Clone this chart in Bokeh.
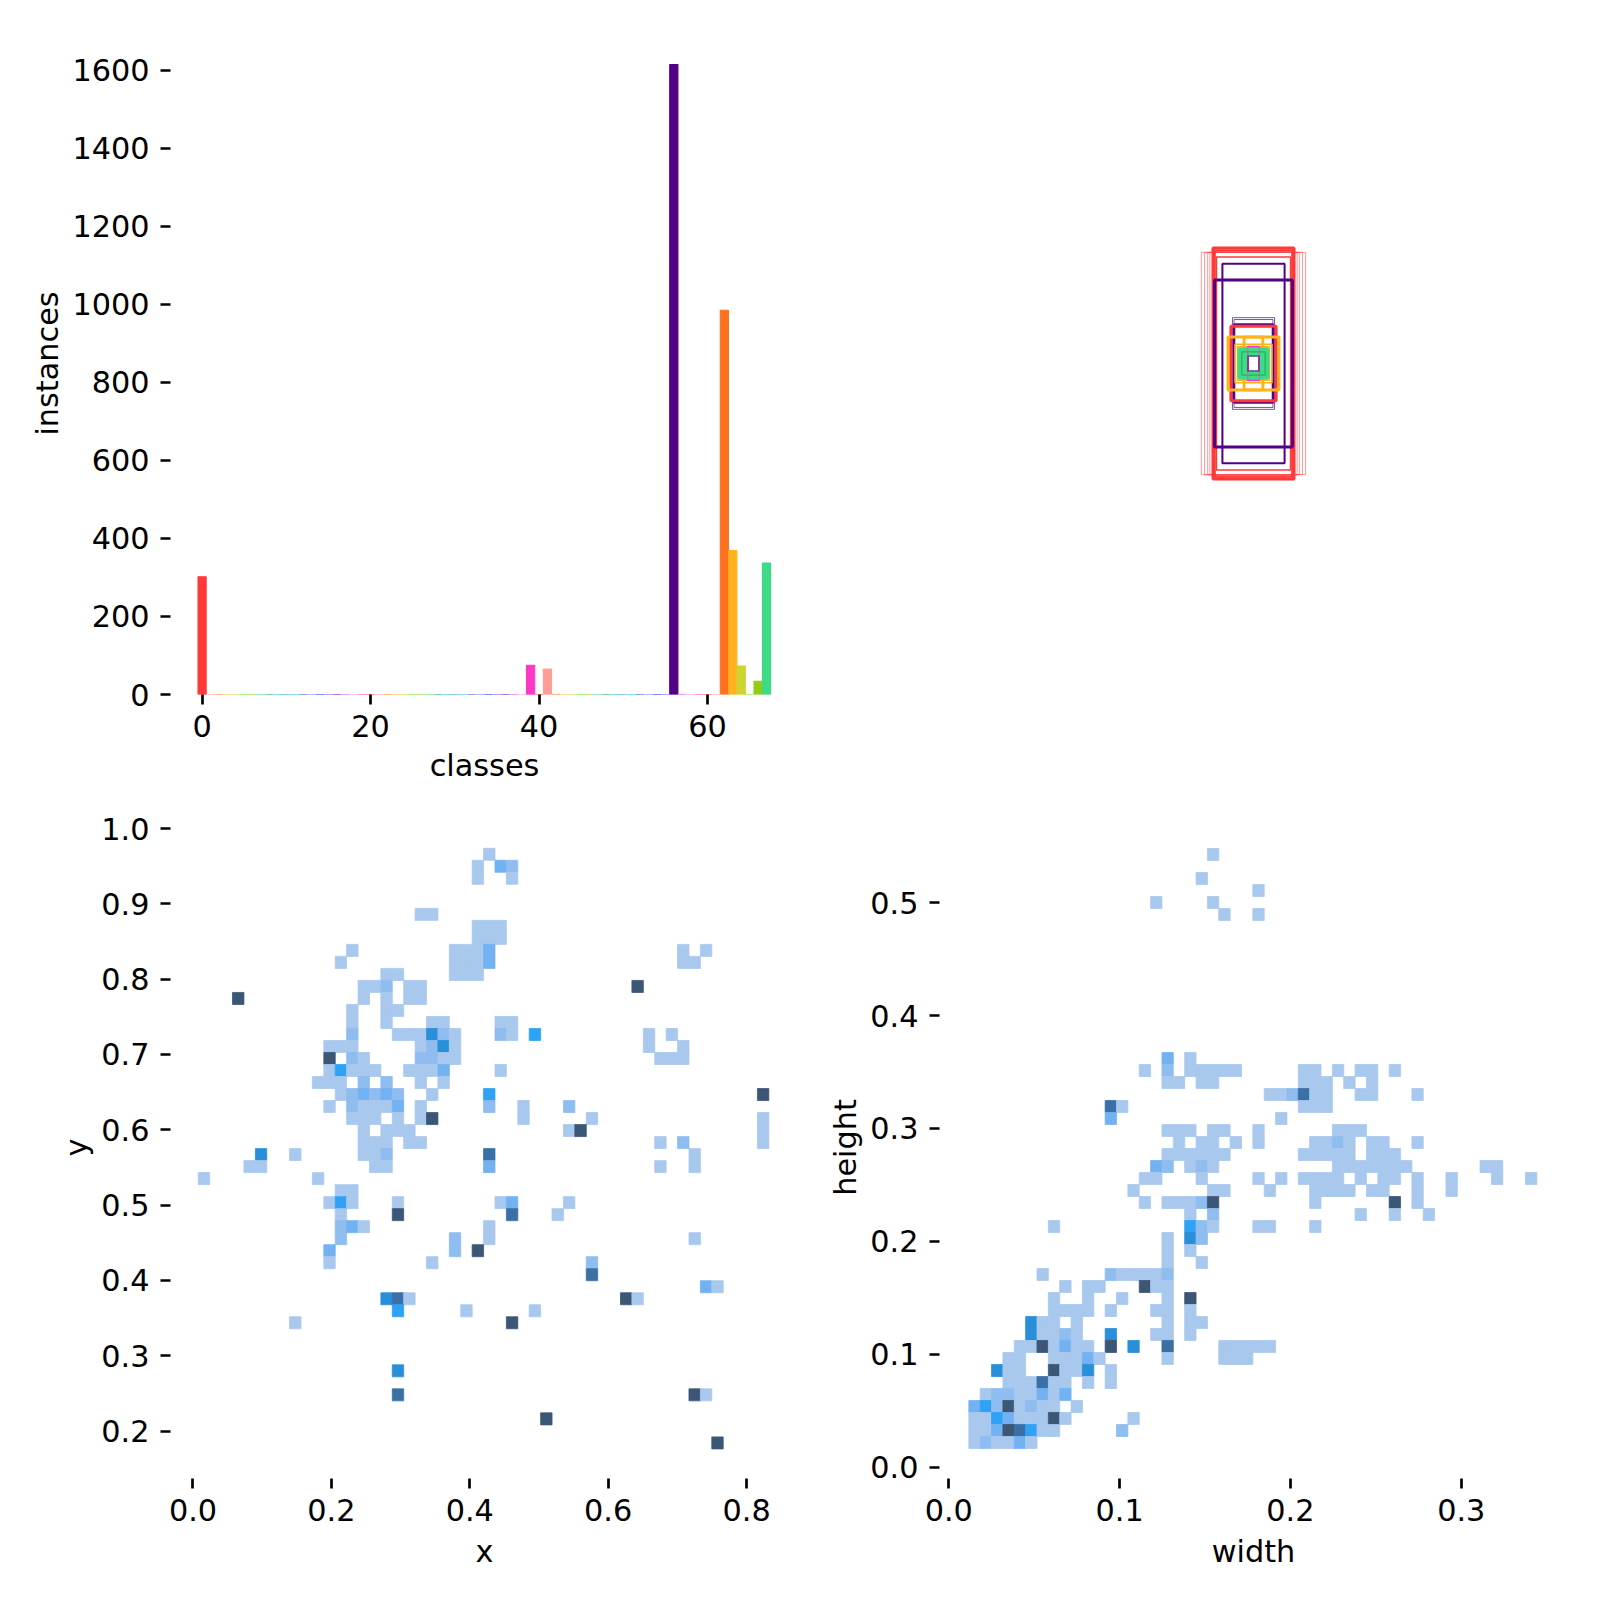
from bokeh.plotting import figure
from bokeh.layouts import column, row
from bokeh.models import FixedTicker, NumeralTickFormatter
from bokeh.embed import file_html
from bokeh.resources import INLINE

# ---- palette by class ----
PALETTE = ["#FF3838", "#FF9D97", "#FF701F", "#FFB21D", "#CFD231", "#48F90A", "#92CC17", "#3DDB86",
           "#1A9334", "#00D4BB", "#2C99A8", "#00C2FF", "#344593", "#6473FF", "#0018EC", "#8438FF",
           "#520085", "#CB38FF", "#FF95C8", "#FF37C7"]

# ---- class histogram ----
class_ids = list(range(68))
class_counts = [302, 0, 0, 0, 0, 0, 0, 0, 0, 0,
                0, 0, 0, 0, 0, 0, 0, 0, 0, 0,
                0, 0, 0, 0, 0, 0, 0, 0, 0, 0,
                0, 0, 0, 0, 0, 0, 0, 0, 0, 75,
                0, 65, 0, 0, 0, 0, 0, 0, 0, 0,
                0, 0, 0, 0, 0, 0, 1615, 0, 0, 0,
                0, 0, 985, 369, 73, 0, 34, 337]

# ---- label boxes, centred (fraction of canvas) ----
box_class = [0, 0, 0, 0, 0, 0, 0, 56, 56, 56, 56, 56, 0, 63, 63, 63, 63, 62, 63,
             39, 67, 67, 67, 67, 8, 39, 56, 56]
box_w = [.166, .156, .146, .139, .129, .124, .118, .124, .099, .067, .062, .062, .072, .059, .051, .030, .081, .030, .030,
         .018, .045, .037, .029, .023, .037, .018, .016, .019]
box_h = [.354, .354, .354, .354, .368, .360, .339, .266, .318, .146, .140, .124, .119, .061, .053, .084, .084, .084, .084,
         .053, .045, .037, .031, .027, .037, .053, .022, .025]
box_n = [1, 1, 1, 1, 6, 5, 3, 6, 4, 2, 2, 5, 6, 3, 3, 5, 6, 2, 5,
         4, 8, 6, 6, 6, 2, 2, 1, 1]

# ---- x / y 2D histogram: row (from top) -> {column: shade level} ----
xy_rows = {
    0: {25: 1}, 1: {24: 1, 26: 3, 27: 2}, 2: {24: 1, 27: 1}, 5: {19: 1, 20: 1},
    6: {24: 1, 25: 1, 26: 1}, 7: {24: 1, 25: 1, 26: 1},
    8: {13: 1, 22: 1, 23: 1, 24: 1, 25: 3, 42: 1, 44: 1},
    9: {12: 1, 22: 1, 23: 1, 24: 1, 25: 3, 42: 1, 43: 1},
    10: {16: 1, 17: 1, 22: 1, 23: 1, 24: 1},
    11: {14: 1, 15: 1, 16: 2, 18: 1, 19: 1, 38: 7},
    12: {3: 7, 14: 1, 16: 1, 18: 1, 19: 1},
    13: {13: 1, 16: 1, 17: 1},
    14: {13: 1, 16: 1, 20: 1, 21: 1, 26: 1, 27: 1},
    15: {13: 2, 17: 1, 18: 1, 19: 1, 20: 5, 21: 2, 22: 1, 26: 2, 27: 1, 29: 4, 39: 1, 41: 1},
    16: {11: 1, 12: 1, 13: 1, 19: 1, 20: 2, 21: 5, 22: 1, 39: 1, 42: 1},
    17: {11: 7, 13: 2, 14: 1, 19: 2, 20: 2, 21: 1, 22: 1, 40: 1, 41: 1, 42: 1},
    18: {11: 1, 12: 4, 13: 1, 14: 1, 15: 1, 18: 1, 19: 1, 20: 1, 21: 3, 26: 1},
    19: {10: 1, 11: 1, 12: 1, 14: 2, 16: 2, 19: 1, 21: 1},
    20: {12: 1, 13: 2, 14: 3, 15: 2, 16: 3, 17: 2, 20: 1, 25: 4, 49: 7},
    21: {11: 1, 13: 2, 14: 1, 15: 1, 16: 1, 17: 3, 19: 1, 25: 2, 28: 1, 32: 2},
    22: {13: 1, 14: 1, 15: 1, 17: 1, 19: 1, 20: 7, 28: 1, 34: 1, 49: 1},
    23: {14: 1, 16: 1, 17: 1, 18: 1, 32: 1, 33: 7, 49: 1},
    24: {14: 1, 15: 1, 16: 1, 18: 1, 19: 1, 40: 1, 42: 2, 49: 1},
    25: {5: 5, 8: 1, 14: 1, 15: 1, 16: 2, 25: 6, 43: 1},
    26: {4: 1, 5: 1, 15: 1, 16: 1, 25: 3, 40: 1, 43: 1},
    27: {0: 1, 10: 1}, 28: {12: 1, 13: 1},
    29: {11: 1, 12: 4, 13: 1, 17: 1, 26: 1, 27: 3, 32: 1},
    30: {12: 1, 17: 7, 27: 6, 31: 1},
    31: {12: 2, 13: 3, 14: 1, 25: 1},
    32: {12: 2, 22: 2, 25: 1, 43: 1},
    33: {11: 3, 22: 2, 24: 7},
    34: {11: 1, 20: 1, 34: 2},
    35: {34: 6},
    36: {44: 3, 45: 1},
    37: {16: 5, 17: 6, 18: 1, 37: 7, 38: 1},
    38: {17: 4, 23: 1, 29: 1},
    39: {8: 1, 27: 7},
    43: {17: 5},
    45: {17: 6, 43: 7, 44: 1},
    47: {30: 7},
    49: {45: 7},
}

# ---- width / height 2D histogram ----
wh_rows = {
    0: {21: 1}, 2: {20: 1}, 3: {25: 1}, 4: {16: 1, 21: 1}, 5: {22: 1, 25: 1},
    17: {17: 3, 19: 1},
    18: {15: 1, 17: 2, 19: 1, 20: 1, 21: 1, 22: 1, 23: 1, 29: 1, 30: 1, 32: 1, 34: 1, 35: 1, 37: 1},
    19: {17: 1, 18: 1, 20: 1, 21: 1, 29: 1, 30: 1, 31: 1, 33: 1, 35: 1},
    20: {26: 1, 27: 1, 28: 2, 29: 6, 30: 1, 31: 1, 34: 1, 35: 1, 39: 1},
    21: {12: 6, 13: 1, 29: 1, 30: 1, 31: 1},
    22: {12: 3, 27: 1},
    23: {17: 1, 18: 1, 19: 1, 21: 1, 22: 1, 25: 1, 32: 1, 33: 1, 34: 1},
    24: {18: 1, 20: 1, 21: 1, 23: 1, 25: 1, 30: 1, 31: 1, 32: 2, 33: 1, 35: 1, 36: 1, 39: 1},
    25: {17: 1, 18: 1, 19: 1, 20: 1, 21: 1, 22: 1, 29: 1, 30: 1, 31: 1, 32: 1, 33: 1, 35: 1, 36: 1, 37: 1},
    26: {16: 3, 17: 2, 19: 1, 20: 2, 21: 1, 32: 1, 33: 1, 34: 1, 35: 1, 36: 1, 37: 1, 38: 1, 45: 1, 46: 1},
    27: {15: 1, 16: 1, 20: 1, 25: 1, 27: 1, 29: 1, 30: 1, 31: 1, 32: 1, 34: 1, 36: 1, 37: 1, 39: 1, 42: 1, 46: 1, 49: 1},
    28: {14: 1, 21: 1, 22: 1, 26: 1, 30: 1, 31: 1, 32: 1, 33: 1, 35: 1, 36: 1, 39: 1, 42: 1},
    29: {15: 1, 17: 1, 18: 1, 19: 1, 20: 2, 21: 7, 30: 1, 37: 7, 39: 1},
    30: {19: 1, 21: 2, 34: 1, 37: 1, 40: 1},
    31: {7: 1, 19: 4, 20: 2, 21: 1, 25: 1, 26: 1, 30: 1},
    32: {17: 1, 19: 5, 20: 2},
    33: {17: 1, 19: 1},
    34: {17: 1, 20: 1},
    35: {6: 1, 12: 2, 13: 1, 14: 1, 15: 1, 16: 1, 17: 2},
    36: {8: 1, 10: 1, 11: 1, 15: 7, 16: 1, 17: 1},
    37: {7: 1, 10: 1, 13: 1, 17: 1, 19: 7},
    38: {7: 1, 8: 1, 9: 1, 10: 1, 12: 1, 16: 1, 17: 1, 19: 1},
    39: {5: 5, 6: 1, 7: 1, 9: 1, 17: 1, 19: 1, 20: 1},
    40: {5: 5, 6: 1, 7: 1, 8: 2, 9: 1, 12: 5, 16: 1, 17: 1, 19: 1},
    41: {4: 1, 5: 1, 6: 7, 7: 1, 8: 3, 9: 1, 10: 1, 12: 7, 14: 5, 17: 6, 22: 1, 23: 1, 24: 1, 25: 1, 26: 1},
    42: {3: 1, 4: 1, 7: 1, 8: 1, 9: 1, 10: 3, 11: 1, 17: 1, 22: 1, 23: 1, 24: 1},
    43: {2: 5, 3: 1, 4: 1, 7: 7, 8: 1, 9: 1, 10: 5, 12: 1},
    44: {3: 1, 4: 1, 5: 1, 6: 6, 7: 1, 8: 1, 10: 1, 12: 1},
    45: {1: 1, 2: 2, 3: 2, 4: 1, 5: 1, 6: 3, 7: 1, 8: 3},
    46: {0: 3, 1: 4, 2: 2, 3: 7, 4: 1, 5: 2, 6: 1, 7: 1, 9: 1},
    47: {0: 1, 1: 1, 2: 4, 3: 3, 4: 1, 5: 1, 6: 1, 7: 7, 8: 1, 14: 1},
    48: {0: 1, 1: 1, 2: 3, 3: 7, 4: 6, 5: 4, 6: 1, 7: 1, 13: 2},
    49: {0: 1, 1: 2, 2: 1, 3: 1, 4: 3, 5: 1},
}

LEVEL_COLORS = [None, "#A9C8EE", "#8FBDF0", "#72B2F3", "#2FA2F6", "#2A8FD9", "#3A70A6", "#3C5675"]

xy_xticks = [0.0, 0.2, 0.4, 0.6, 0.8]
xy_yticks = [0.2, 0.3, 0.4, 0.5, 0.6, 0.7, 0.8, 0.9, 1.0]
wh_xticks = [0.0, 0.1, 0.2, 0.3]
wh_yticks = [0.0, 0.1, 0.2, 0.3, 0.4, 0.5]
cls_xticks = [0, 20, 40, 60]
cls_yticks = [0, 200, 400, 600, 800, 1000, 1200, 1400, 1600]

FONT = "DejaVu Sans"
SIZE = "30.3px"
FRAME_W, FRAME_H = 628, 662


def make(x_range, y_range, left, right, top, bottom):
    p = figure(x_range=x_range, y_range=y_range, frame_width=FRAME_W, frame_height=FRAME_H,
               min_border_left=left, min_border_right=right, min_border_top=top, min_border_bottom=bottom,
               toolbar_location=None, output_backend="svg", background_fill_color="white",
               border_fill_color="white", outline_line_color=None)
    p.grid.visible = False
    return p


def style(p, xticks, yticks, xlabel, ylabel, numeric, x_off):
    for ax, ticks, label, near, off in ((p.xaxis[0], xticks, xlabel, 10, x_off), (p.yaxis[0], yticks, ylabel, 11, 4)):
        ax.ticker = FixedTicker(ticks=ticks)
        ax.axis_label = label
        ax.axis_line_color = None
        ax.major_tick_line_color = "black"
        ax.major_tick_line_width = 2.7
        ax.major_tick_in = 0
        ax.major_tick_out = 10
        ax.minor_tick_line_color = None
        ax.major_label_text_font = FONT
        ax.major_label_text_font_size = SIZE
        ax.major_label_text_color = "black"
        ax.major_label_standoff = near
        ax.axis_label_text_font = FONT
        ax.axis_label_text_font_size = SIZE
        ax.axis_label_text_font_style = "normal"
        ax.axis_label_text_color = "black"
        ax.axis_label_standoff = off
        if numeric:
            ax.formatter = NumeralTickFormatter(format="0.0")


def draw_cells(p, rows, x0, dx, y_top, dy):
    xs, ys, cs = [], [], []
    for r, cells in rows.items():
        for c, lvl in cells.items():
            xs.append(x0 + (c + 0.5) * dx)
            ys.append(y_top - (r + 0.5) * dy)
            cs.append(LEVEL_COLORS[lvl])
    p.rect(x=xs, y=ys, width=dx, height=dy, fill_color=cs, line_color=cs, line_width=0.8)


# top-left: classes
p1 = make((-3.75, 70.8), (0, 1697), 170, 22, 32, 96)
colors = [PALETTE[c % 20] for c in class_ids]
p1.vbar(x=class_ids, top=class_counts, bottom=0, width=0.97, fill_color=colors, line_color=colors, line_width=1.1)
style(p1, cls_xticks, cls_yticks, "classes", "instances", False, 8)

# top-right: boxes
half = 0.5 * FRAME_H / FRAME_W
p2 = make((0, 1), (0.5 - half, 0.5 + half), 119, 16, 32, 96)
p2.axis.visible = False
box_colors = [PALETTE[c % 20] for c in box_class]
box_lw = [1.0 if n == 1 else 0.5 * n for n in box_n]
box_alpha = [0.5 if n == 1 else (0.7 if n == 2 else 1.0) for n in box_n]
p2.rect(x=[0.5] * len(box_w), y=[0.5] * len(box_w), width=box_w, height=box_h, fill_color=None,
        line_color=box_colors, line_width=box_lw, line_alpha=box_alpha)

# bottom-left: x / y
p3 = make((-0.0325, 0.875), (0.137, 1.016), 170, 22, 26, 100)
draw_cells(p3, xy_rows, 0.00766, 0.01649, 0.9738, 0.01595)
style(p3, xy_xticks, xy_yticks, "x", "y", True, 10)

# bottom-right: width / height
p4 = make((-0.0054, 0.3622), (-0.0101, 0.5764), 119, 16, 26, 100)
draw_cells(p4, wh_rows, 0.01177, 0.00665, 0.5480, 0.01063)
style(p4, wh_xticks, wh_yticks, "width", "height", True, 10)

layout = column(row(p1, p2), row(p3, p4))
open("out.html", "w").write(file_html(layout, INLINE))
